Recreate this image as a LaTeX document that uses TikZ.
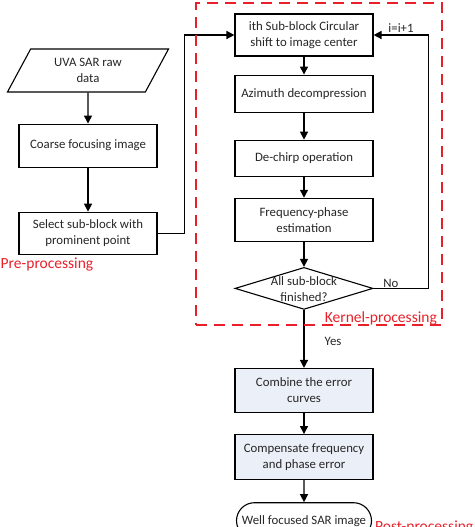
\documentclass[tikz,border=0pt]{standalone}
\usepackage{fontspec}
\setmainfont{Carlito}
\usetikzlibrary{positioning, arrows.meta, shapes.geometric, shapes.misc}
\definecolor{kernelred}{HTML}{E8202A}
\definecolor{postfill}{HTML}{EBEFF7}

\begin{document}
\begin{tikzpicture}[x=1pt, y=-1pt,
    every node/.style={font=\fontsize{12.8}{16}\selectfont, text=black!85},
    block/.style={draw, line width=1.1pt, minimum width=138pt, align=center, inner sep=2pt},
    data/.style={trapezium, trapezium left angle=63, trapezium right angle=117, trapezium stretches=true, draw, line width=1.1pt, minimum width=162pt, minimum height=43pt, align=center, inner sep=2pt},
    decision/.style={diamond, draw, line width=1.1pt, minimum width=138pt, minimum height=42pt, inner sep=0pt},
    terminal/.style={rounded rectangle, draw, line width=1.1pt, minimum width=139pt, minimum height=36pt, inner sep=2pt},
    arr/.style={-{Triangle[length=8pt, width=8pt]}, line width=1.4pt},
    stage/.style={text=kernelred, font=\fontsize{15.5}{18}\selectfont}
]
\useasboundingbox (0,0) rectangle (474,527);

% Pre-processing column
\node[data] (raw) at (88,70.5) {UVA SAR raw\\data};
\node[block, minimum height=43pt, below=31pt of raw] (coarse) {Coarse focusing image};
\node[block, minimum height=42pt, below=44pt of coarse] (sel) {Select sub-block with\\prominent point};
\node[stage, anchor=west, inner sep=0.5pt] (prelabel) at (0,264) {Pre-processing};

% Kernel-processing column
\node[block, minimum height=42pt] (ith) at (304,35) {ith Sub-block Circular\\shift to image center};
\node[block, minimum height=37pt, below=18pt of ith] (azi) {Azimuth decompression};
\node[block, minimum height=36pt, below=27pt of azi] (dechirp) {De-chirp operation};
\node[block, minimum height=43pt, below=21pt of dechirp] (freq) {Frequency-phase\\estimation};
\node[decision, below=25pt of freq] (dec) {};
\node[align=center] (dectext) at ([yshift=-1pt]dec.center) {All sub-block\\finished?};

% Post-processing column
\node[block, fill=postfill, minimum height=44pt, below=58pt of dec] (combine) {Combine the error\\curves};
\node[block, fill=postfill, minimum height=45pt, below=21pt of combine] (comp) {Compensate frequency\\and phase error};
\node[terminal, below=22pt of comp] (out) {Well focused SAR image};
\node[stage, anchor=base west, inner sep=0pt] (postlabel) at (375,531) {Post-processing};

% Arrows
\draw[arr] (raw) -- (coarse);
\draw[arr] (coarse) -- (sel);
\draw[arr] (sel.east) -- ++(27,0) |- (ith.west);
\draw[arr] (ith) -- (azi);
\draw[arr] (azi) -- (dechirp);
\draw[arr] (dechirp) -- (freq);
\draw[arr] (freq) -- (dec);
\draw[arr] (dec.south) -- node[pos=0.55, right=20pt, inner sep=0pt] (yes) {Yes} (combine.north);
\draw[arr] (combine) -- (comp);
\draw[arr] (comp) -- (out);

% Loop back
\draw[arr] (dec.east) -- ++(55,0) |- node[pos=0.75, above, inner sep=2pt] (incr) {i=i+1} (ith.east);
\node[anchor=south west, inner sep=0.5pt] (no) at ([xshift=9pt]dec.east) {No};

% Kernel frame
\node[draw=kernelred, line width=2pt, dash pattern=on 11pt off 7pt, minimum width=246pt, minimum height=322pt, inner sep=0pt] (kbox) at (319,164) {};
\node[stage, anchor=south east, inner sep=1pt] (klabel) at ([xshift=-5pt]kbox.south east) {Kernel-processing};

\end{tikzpicture}
\end{document}
